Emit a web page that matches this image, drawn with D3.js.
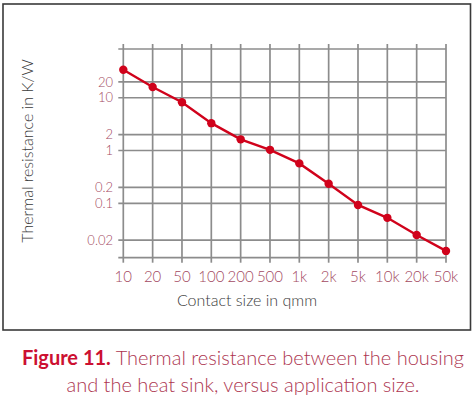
<!DOCTYPE html>
<html>
<head>
    <title>Thermal resistance vs contact size</title>
    <script src="https://d3js.org/d3.v7.min.js"></script>
    <style>
        body { margin: 0; background: #fff; }
        text { font-family: Lato, "Open Sans", sans-serif; font-weight: 300; }
    </style>
</head>
<body>
    <div id="chart"></div>
    <script>
        // contact size categories (qmm) and thermal resistance (K/W)
        const sizes = ["10", "20", "50", "100", "200", "500", "1k", "2k", "5k", "10k", "20k", "50k"];
        const resistance = [34, 16, 8.2, 3.3, 1.63, 1.03, 0.57, 0.235, 0.093, 0.053, 0.025, 0.0125];
        const yTicks = [20, 10, 2, 1, 0.2, 0.1, 0.02];
        const yTickLabels = ["20", "10", "2", "1", "0.2", "0.1", "0.02"];
        const yDomain = [0.0093, 84];

        const width = 474, height = 399;
        const svg = d3.select("#chart").append("svg")
            .attr("width", width)
            .attr("height", height);

        // frame around the plot
        svg.append("rect")
            .attr("x", 3).attr("y", 4)
            .attr("width", 467.5).attr("height", 326)
            .attr("fill", "none")
            .attr("stroke", "#3a3a3a")
            .attr("stroke-width", 1.6);

        const x = d3.scalePoint().domain(sizes).range([123.3, 446]);
        const y = d3.scaleLog().domain(yDomain).range([257.7, 49]);

        const gridColor = "#8c8c8c";

        // horizontal grid lines (labelled ticks + top and bottom edges)
        const hLines = yDomain.concat(yTicks);
        svg.append("g").selectAll("line")
            .data(hLines)
            .enter().append("line")
            .attr("x1", x(sizes[0]) - 5)
            .attr("x2", x(sizes[sizes.length - 1]))
            .attr("y1", d => y(d))
            .attr("y2", d => y(d))
            .attr("stroke", gridColor)
            .attr("stroke-width", 1.7);

        // vertical grid lines
        svg.append("g").selectAll("line")
            .data(sizes)
            .enter().append("line")
            .attr("x1", d => x(d))
            .attr("x2", d => x(d))
            .attr("y1", y(yDomain[1]) - 5)
            .attr("y2", y(yDomain[0]) + 5)
            .attr("stroke", gridColor)
            .attr("stroke-width", 1.7);

        const tickColor = "#a34a62";

        // y tick labels
        svg.append("g").selectAll("text")
            .data(yTicks)
            .enter().append("text")
            .attr("x", 113)
            .attr("y", d => y(d))
            .attr("dy", "0.36em")
            .attr("text-anchor", "end")
            .attr("font-size", 13)
            .attr("fill", tickColor)
            .text((d, i) => yTickLabels[i]);

        // x tick labels
        svg.append("g").selectAll("text")
            .data(sizes)
            .enter().append("text")
            .attr("x", d => x(d))
            .attr("y", 282)
            .attr("text-anchor", "middle")
            .attr("font-size", 15)
            .attr("fill", tickColor)
            .text(d => d);

        // axis titles
        svg.append("text")
            .attr("transform", "translate(33,151) rotate(-90)")
            .attr("text-anchor", "middle")
            .attr("font-size", 16)
            .attr("fill", "#3a3a3a")
            .text("Thermal resistance in K/W");

        svg.append("text")
            .attr("x", 247)
            .attr("y", 306)
            .attr("text-anchor", "middle")
            .attr("font-size", 16)
            .attr("fill", "#3a3a3a")
            .text("Contact size in qmm");

        // data line and dots
        const points = sizes.map((s, i) => ({ size: s, value: resistance[i] }));
        const red = "#d0021b";

        svg.append("path")
            .datum(points)
            .attr("fill", "none")
            .attr("stroke", red)
            .attr("stroke-width", 2.4)
            .attr("d", d3.line().x(d => x(d.size)).y(d => y(d.value)));

        svg.append("g").selectAll("circle")
            .data(points)
            .enter().append("circle")
            .attr("cx", d => x(d.size))
            .attr("cy", d => y(d.value))
            .attr("r", 4.2)
            .attr("fill", red);

        // caption
        const caption = svg.append("text")
            .attr("text-anchor", "middle")
            .attr("font-size", 20)
            .attr("fill", "#ad3550");
        const line1 = caption.append("tspan").attr("x", 243).attr("y", 365);
        line1.append("tspan").attr("font-weight", "bold").attr("fill", "#cc1031").text("Figure 11.");
        line1.append("tspan").text(" Thermal resistance between the housing");
        caption.append("tspan").attr("x", 243).attr("y", 392)
            .text("and the heat sink, versus application size.");
    </script>
</body>
</html>
